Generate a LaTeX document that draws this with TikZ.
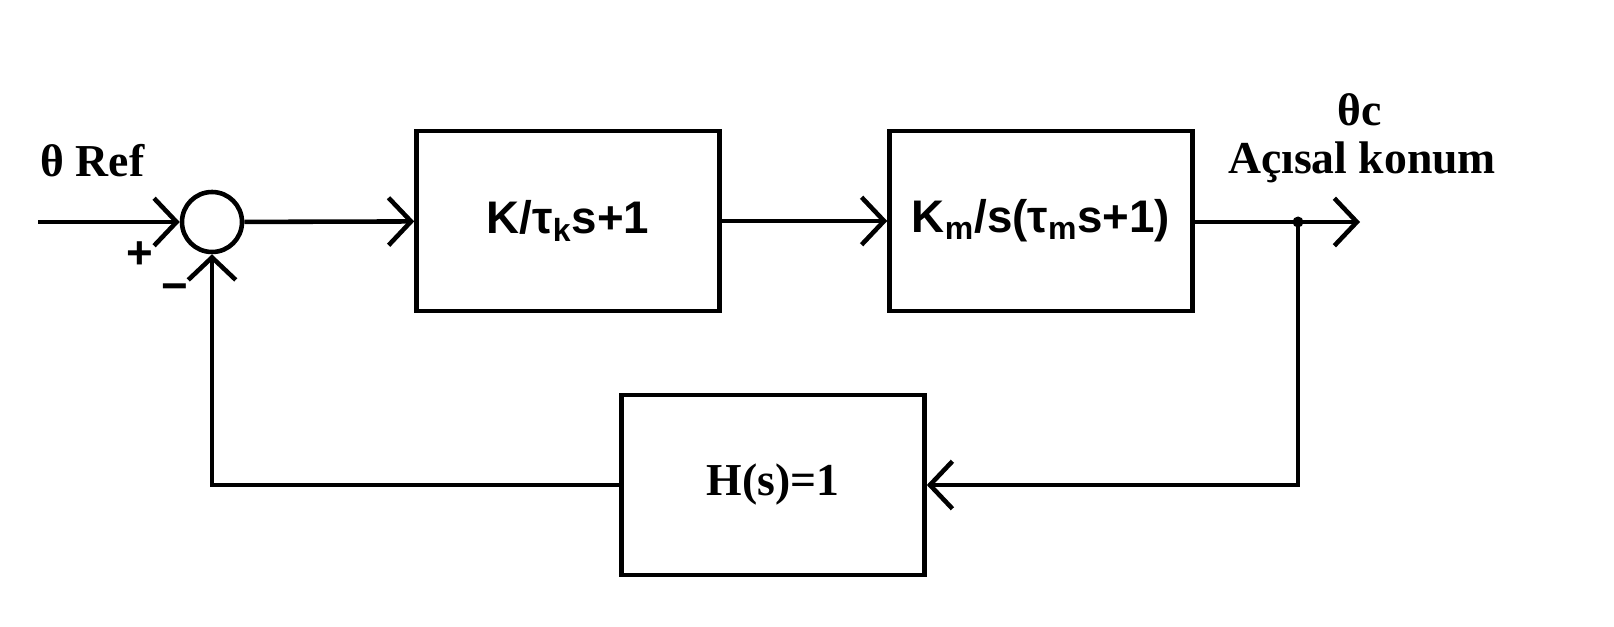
\documentclass[tikz,border=0pt]{standalone}
\usepackage{fontspec}
\setmainfont{Liberation Serif}
\newfontfamily\sansf{Liberation Sans}
\usetikzlibrary{arrows.meta,positioning,calc}

\begin{document}
\begin{tikzpicture}[
    line width=2.6pt,
    box/.style={rectangle, draw, minimum width=6.06cm, minimum height=3.6cm, font=\fontsize{26}{30}\selectfont\bfseries},
    sum/.style={circle, draw, minimum size=1.2cm, inner sep=0pt},
    lbl/.style={font=\fontsize{26}{30}\selectfont\bfseries},
    arrow/.style={-{Straight Barb[length=0.45cm,width=0.95cm,line width=2.6pt]}}
]
\useasboundingbox (0,0) rectangle (32.28,12.52);

\coordinate (in) at (0.76,8.08);
\node[sum] (sum) at (4.24,8.08) {};
\node[box, font=\fontsize{26}{30}\selectfont\bfseries\sansf] (ctrl) at (11.36,8.1) {K/τ\textsubscript{k}s+1};
\node[box, font=\fontsize{26}{30}\selectfont\bfseries\sansf] (motor) at (20.82,8.1) {K\textsubscript{m}/s(τ\textsubscript{m}s+1)};
\node[box] (fb) at (15.46,2.82) {H(s)=1};
\coordinate (split) at (25.96,8.08);
\coordinate (out) at (27.2,8.08);
\coordinate (corner) at (25.96,2.82);

\draw[arrow] (in) -- (sum);
\draw[arrow] (sum) -- (ctrl);
\draw[arrow] (ctrl) -- (motor);
\draw[arrow] (motor.east |- split) -- (out);
\fill (split) circle (0.11);
\draw[arrow] (split) -- (corner) -- (fb);
\draw[arrow] (fb.west) -| (sum.south);

% labels
\node[lbl] (ref) at (1.85,9.3) {θ Ref};
\node[lbl, font=\fontsize{26}{30}\selectfont\bfseries\sansf] (plus) at (2.8,7.42) {+};
\node[lbl, font=\fontsize{26}{30}\selectfont\bfseries\sansf] (minus) at (3.5,6.66) {−};
\node[lbl] (thc) at (27.2,10.32) {θc};
\node[lbl] (pos) at (27.24,9.28) {Açısal konum};
\end{tikzpicture}
\end{document}
